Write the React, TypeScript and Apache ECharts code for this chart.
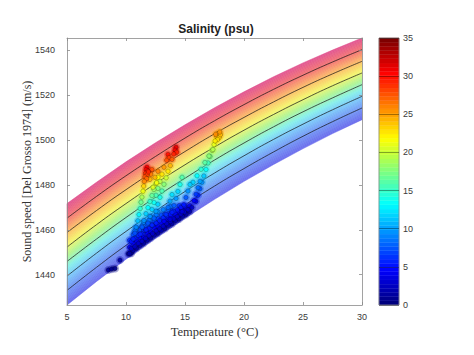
import React, { useEffect, useRef } from "react";
import * as echarts from "echarts";

// ---- band (sound speed contours by salinity) ----
const temps = [5, 7.5, 10, 12.5, 15, 17.5, 20, 22.5, 25, 27.5, 30];
const salinityLevels = [0, 5, 10, 15, 20, 25, 30, 35];
const speedS0 = [1426.5, 1437.0, 1446.9, 1456.3, 1465.2, 1473.6, 1481.6, 1489.1, 1496.2, 1502.9, 1509.1];
const speedS5 = [1433.0, 1443.3, 1453.1, 1462.3, 1471.1, 1479.5, 1487.3, 1494.7, 1501.7, 1508.2, 1514.3];
const speedS10 = [1439.4, 1449.6, 1459.3, 1468.4, 1477.1, 1485.3, 1493.0, 1500.3, 1507.1, 1513.5, 1519.5];
const speedS15 = [1445.9, 1455.9, 1465.5, 1474.5, 1483.0, 1491.1, 1498.7, 1505.9, 1512.6, 1518.8, 1524.7];
const speedS20 = [1452.3, 1462.3, 1471.7, 1480.6, 1489.0, 1496.9, 1504.4, 1511.4, 1518.0, 1524.2, 1529.9];
const speedS25 = [1458.8, 1468.6, 1477.9, 1486.6, 1494.9, 1502.8, 1510.1, 1517.0, 1523.5, 1529.5, 1535.1];
const speedS30 = [1465.2, 1474.9, 1484.1, 1492.7, 1500.9, 1508.6, 1515.8, 1522.6, 1528.9, 1534.8, 1540.3];
const speedS35 = [1471.7, 1481.2, 1490.3, 1498.8, 1506.8, 1514.4, 1521.5, 1528.2, 1534.4, 1540.1, 1545.5];
const contours = [speedS0, speedS5, speedS10, speedS15, speedS20, speedS25, speedS30, speedS35];

// ---- tick labels ----
const xTicks = [5, 10, 15, 20, 25, 30];
const yTicks = [1440, 1460, 1480, 1500, 1520, 1540];
const cbTicks = [0, 5, 10, 15, 20, 25, 30, 35];

// ---- measured profiles: [temperature, sound speed, salinity] ----
const isolated = [[8.5, 1442.1, 0.6], [8.79, 1442.5, 0.5], [9.07, 1442.8, 0.4], [9.49, 1446.5, 1.3], [10.2, 1449.3, 1.2], [10.45, 1449.6, 0.9]];
const blueMass = [
  [10.3, 1449.5, 1.2], [10.3, 1452.3, 3.5], [10.3, 1455.4, 6.0],
  [10.6, 1450.8, 1.3], [10.6, 1454.1, 4.0], [10.6, 1457.8, 7.0],
  [10.9, 1451.8, 1.2], [10.9, 1455.0, 3.8], [10.9, 1458.3, 6.5], [10.9, 1460.8, 8.5],
  [11.2, 1453.0, 1.3], [11.2, 1456.6, 4.2], [11.2, 1460.0, 7.0],
  [11.5, 1454.0, 1.2], [11.5, 1456.8, 3.5], [11.5, 1459.9, 6.0], [11.5, 1463.3, 8.8],
  [11.8, 1455.3, 1.3], [11.8, 1458.6, 4.0], [11.8, 1462.5, 7.2],
  [12.1, 1456.3, 1.2], [12.1, 1459.2, 3.6], [12.1, 1462.5, 6.3], [12.1, 1465.8, 9.0],
  [12.4, 1457.6, 1.4], [12.4, 1461.0, 4.2], [12.4, 1464.4, 7.0],
  [12.7, 1458.5, 1.2], [12.7, 1461.6, 3.8], [12.7, 1465.0, 6.6], [12.7, 1468.1, 9.2],
  [13.0, 1459.7, 1.3], [13.0, 1463.2, 4.2], [13.0, 1466.6, 7.0],
  [13.3, 1460.6, 1.2], [13.3, 1463.7, 3.8], [13.3, 1467.0, 6.5],
  [13.6, 1461.9, 1.4], [13.6, 1465.5, 4.4], [13.6, 1469.1, 7.4],
  [13.9, 1462.7, 1.2], [13.9, 1465.6, 3.6], [13.9, 1468.5, 6.0],
  [14.2, 1464.0, 1.3], [14.2, 1467.2, 4.0],
  [14.5, 1464.8, 1.2], [14.5, 1468.0, 3.8], [14.5, 1470.8, 6.2],
  [14.8, 1466.0, 1.3], [14.8, 1468.7, 3.5],
  [15.1, 1466.9, 1.2], [15.1, 1469.3, 3.2],
  [15.4, 1468.2, 1.4], [15.4, 1470.8, 3.6],
];
const blueMass2 = [
  [10.45, 1451.7, 2.5], [10.45, 1454.8, 5.0],
  [10.75, 1452.5, 2.3], [10.75, 1456.2, 5.3], [10.75, 1459.6, 8.0],
  [11.05, 1454.0, 2.6], [11.05, 1457.6, 5.5],
  [11.35, 1454.9, 2.4], [11.35, 1458.2, 5.1], [11.35, 1461.7, 8.0],
  [11.65, 1456.2, 2.5], [11.65, 1459.9, 5.5],
  [11.95, 1457.4, 2.6], [11.95, 1460.6, 5.2], [11.95, 1464.3, 8.2],
  [12.25, 1458.3, 2.4], [12.25, 1462.0, 5.5],
  [12.55, 1459.6, 2.6], [12.55, 1463.0, 5.3], [12.55, 1466.7, 8.4],
  [12.85, 1460.5, 2.4], [12.85, 1464.1, 5.4],
  [13.15, 1461.6, 2.5], [13.15, 1465.4, 5.6], [13.15, 1469.0, 8.6],
  [13.45, 1462.8, 2.6], [13.45, 1466.4, 5.6],
  [13.75, 1463.7, 2.4], [13.75, 1466.8, 5.0], [13.75, 1470.4, 8.0],
  [14.05, 1464.9, 2.6], [14.05, 1468.3, 5.5],
  [14.35, 1465.9, 2.5], [14.35, 1468.9, 5.0],
  [14.65, 1467.0, 2.5], [14.65, 1470.0, 5.0],
  [14.95, 1467.9, 2.4], [14.95, 1470.7, 4.8],
  [15.25, 1469.0, 2.5],
];
const blobA = [[11.78, 1487.9, 31.0], [11.7, 1486.8, 30.5], [11.85, 1486.3, 30.0], [11.65, 1485.2, 29.2], [11.8, 1484.6, 28.5], [11.9, 1485.8, 29.3], [11.6, 1483.6, 27.8], [11.75, 1482.8, 27.0], [11.55, 1481.6, 26.0]];
const streakA = [[11.44, 1477.2, 21.3], [11.5, 1479.5, 23.4], [11.35, 1474.6, 18.9], [11.27, 1472.3, 16.8], [11.2, 1469.5, 14.8], [11.1, 1466.8, 12.8], [11.0, 1464.0, 10.9], [10.85, 1461.2, 9.0], [10.75, 1458.5, 7.1], [10.6, 1455.9, 5.4]];
const handA = [[12.2, 1486.9, 28.0], [12.46, 1483.4, 24.5], [12.71, 1486.1, 26.0], [12.03, 1482.5, 24.6], [12.29, 1479.0, 20.8], [12.1, 1484.8, 26.4], [12.6, 1481.0, 21.5]];
const blobB = [[14.24, 1496.8, 31.5], [14.15, 1495.5, 30.8], [14.3, 1494.6, 29.6], [14.05, 1493.8, 29.6], [13.56, 1493.6, 30.2], [13.65, 1492.2, 28.8], [13.9, 1491.4, 27.5], [13.45, 1491.0, 28.0]];
const streakB1 = [[13.75, 1488.6, 24.5], [13.56, 1486.1, 22.7], [13.4, 1483.2, 20.2], [13.22, 1480.3, 17.8], [13.05, 1477.3, 15.7], [12.88, 1474.5, 14.0], [12.7, 1471.4, 11.7], [12.54, 1468.3, 9.8], [12.37, 1465.2, 7.7], [12.2, 1462.1, 5.7]];
const streakB2 = [[13.22, 1487.9, 25.4], [13.05, 1484.8, 22.8], [12.88, 1481.6, 19.6], [12.7, 1478.5, 17.4], [12.54, 1475.4, 15.6], [12.37, 1472.2, 13.5], [12.2, 1469.1, 11.5], [12.03, 1466.0, 9.4], [11.86, 1463.0, 7.4], [11.7, 1460.0, 5.3]];
const streakG = [[12.71, 1483.4, 21.9], [12.55, 1480.7, 20.0], [12.37, 1478.0, 18.2], [12.2, 1475.3, 16.5], [12.03, 1472.6, 14.8], [11.86, 1469.9, 13.1], [11.69, 1467.2, 11.4], [11.52, 1464.2, 9.4], [11.36, 1461.2, 7.5], [11.2, 1458.1, 5.5]];
const blobC = [[17.8, 1502.9, 25.2], [17.7, 1501.6, 24.5], [17.9, 1501.2, 23.8], [17.6, 1502.6, 25.8], [18.0, 1502.4, 24.3], [17.75, 1500.2, 23.0], [17.55, 1499.6, 22.5], [17.95, 1503.6, 25.4]];
const streakC = [[17.46, 1498.0, 21.0], [17.3, 1495.4, 19.2], [17.12, 1492.7, 17.3], [16.95, 1489.8, 15.3], [16.78, 1486.9, 13.3], [16.6, 1484.0, 11.3], [16.44, 1481.2, 9.4], [16.27, 1478.3, 7.4], [16.1, 1475.4, 5.5], [15.93, 1472.7, 3.7]];
const streakC2 = [[15.68, 1481.2, 11.6], [16.02, 1484.1, 13.1], [16.36, 1487.0, 14.6], [16.69, 1490.0, 16.2], [17.03, 1492.9, 17.8], [17.37, 1495.8, 19.3]];
const streak4 = [[16.27, 1481.6, 10.0], [16.1, 1478.8, 8.2], [15.93, 1475.9, 6.3], [15.76, 1473.0, 4.3], [15.59, 1470.0, 2.3]];
const streak5 = [[15.42, 1480.2, 11.3], [15.25, 1477.3, 9.4], [15.08, 1474.4, 7.4], [14.9, 1471.2, 5.3], [14.75, 1468.1, 3.2]];
const streak6 = [[14.75, 1483.4, 15.9], [14.58, 1480.2, 13.8], [14.4, 1477.1, 11.7], [14.24, 1474.0, 9.6], [14.07, 1470.9, 7.5], [13.9, 1467.8, 5.4], [13.73, 1464.7, 3.3]];
const streak7 = [[13.9, 1475.7, 12.0], [13.73, 1472.8, 10.1], [13.56, 1470.0, 8.2], [13.39, 1466.9, 6.1], [13.22, 1463.8, 4.1]];

const profilePoints = [
  ...isolated, ...blueMass, ...blueMass2, ...streakA, ...streakB1, ...streakB2, ...streakG,
  ...streakC, ...streakC2, ...streak4, ...streak5, ...streak6, ...streak7,
  ...handA, ...blobA, ...blobB, ...blobC,
];

// ---- colours ----
const jetStops = ["#00007F", "#0000FF", "#007FFF", "#00FFFF", "#7FFF7F", "#FFFF00", "#FF7F00", "#FF0000", "#7F0000"];
const bandStops: [number, number[]][] = [
  [0, [105, 105, 235]],
  [5, [115, 150, 245]],
  [10, [125, 205, 250]],
  [13, [135, 240, 235]],
  [17, [175, 245, 150]],
  [21, [245, 245, 110]],
  [25, [252, 195, 105]],
  [30, [245, 120, 115]],
  [35, [225, 85, 145]],
];

function hexToRgb(h: string) {
  return [parseInt(h.slice(1, 3), 16), parseInt(h.slice(3, 5), 16), parseInt(h.slice(5, 7), 16)];
}
function jet(t: number) {
  const n = jetStops.length - 1;
  const p = Math.max(0, Math.min(1, t)) * n;
  const i = Math.min(n - 1, Math.floor(p));
  const f = p - i;
  const a = hexToRgb(jetStops[i]);
  const b = hexToRgb(jetStops[i + 1]);
  return `rgb(${a.map((v, k) => Math.round(v + (b[k] - v) * f)).join(",")})`;
}
function bandColor(s: number) {
  for (let i = 0; i < bandStops.length - 1; i++) {
    const [s0, c0] = bandStops[i];
    const [s1, c1] = bandStops[i + 1];
    if (s <= s1) {
      const f = (s - s0) / (s1 - s0);
      return `rgb(${c0.map((v, k) => Math.round(v + (c1[k] - v) * f)).join(",")})`;
    }
  }
  return "rgb(225,85,145)";
}
function speedAt(ti: number, s: number) {
  const k = Math.min(salinityLevels.length - 2, Math.floor(s / 5));
  const f = (s - salinityLevels[k]) / 5;
  return contours[k][ti] * (1 - f) + contours[k + 1][ti] * f;
}

const STRIP = 0.5;
const nStrips = Math.round(35 / STRIP);
const CB_STEPS = 64;

const axisGray = "#8a8a8a";
const labelColor = "#3a3a3a";
const sans = "Liberation Sans, Arial, sans-serif";
const serif = "Liberation Serif, Times New Roman, serif";
const tickFont = 9;

function buildOption() {
  const bandData = Array.from({ length: nStrips }, (_, j) => [5, 1480, j]);
  const cbData = [...Array.from({ length: CB_STEPS }, (_, i) => [0.5, 10, i]), [0.5, 10, -1]];

  const contourSeries = salinityLevels.slice(1, 7).map((s, idx) => ({
    type: "line",
    xAxisIndex: 0,
    yAxisIndex: 0,
    data: temps.map((t, i) => [t, contours[idx + 1][i]]),
    symbol: "none",
    smooth: true,
    lineStyle: { color: "#111", width: 0.7 },
    z: 3,
    silent: true,
  }));

  return {
    animation: false,
    backgroundColor: "#fff",
    graphic: [
      {
        type: "text",
        x: 216,
        y: 29,
        style: {
          text: "Salinity (psu)",
          fill: "#222",
          font: `bold 12px ${sans}`,
          textAlign: "center",
          textVerticalAlign: "middle",
        },
      },
    ],
    grid: [
      { left: 67, top: 38, width: 295, height: 267 },
      { left: 379, top: 38, width: 20, height: 267 },
    ],
    xAxis: [
      {
        gridIndex: 0,
        type: "value",
        min: 5,
        max: 30,
        interval: 5,
        position: "bottom",
        z: 5,
        axisLine: { lineStyle: { color: axisGray, width: 0.8 } },
        axisTick: { inside: true, length: 3, lineStyle: { color: axisGray, width: 0.8 } },
        axisLabel: { color: labelColor, fontSize: tickFont, margin: 7, fontFamily: sans, customValues: xTicks },
        splitLine: { show: false },
        name: "Temperature (°C)",
        nameLocation: "middle",
        nameGap: 20,
        nameMoveOverlap: false,
        nameTextStyle: { color: "#333", fontSize: 12.5, fontFamily: serif },
      },
      {
        gridIndex: 0,
        type: "value",
        min: 5,
        max: 30,
        interval: 5,
        position: "top",
        z: 5,
        axisLine: { lineStyle: { color: axisGray, width: 0.8 } },
        axisTick: { inside: true, length: 3, lineStyle: { color: axisGray, width: 0.8 } },
        axisLabel: { show: false },
        splitLine: { show: false },
      },
      { gridIndex: 1, type: "value", min: 0, max: 1, show: false },
    ],
    yAxis: [
      {
        gridIndex: 0,
        type: "value",
        min: speedS0[0],
        max: speedS35[speedS35.length - 1],
        position: "left",
        z: 5,
        axisLine: { lineStyle: { color: axisGray, width: 0.8 } },
        axisTick: { inside: true, length: 3, customValues: yTicks, lineStyle: { color: axisGray, width: 0.8 } },
        axisLabel: {
          color: labelColor,
          fontSize: tickFont,
          margin: 12,
          fontFamily: sans,
          customValues: yTicks,
          formatter: (v: number) => String(v),
        },
        splitLine: { show: false },
        name: "Sound speed [Del Grosso 1974] (m/s)",
        nameLocation: "middle",
        nameGap: 34,
        nameMoveOverlap: false,
        nameTextStyle: { color: "#333", fontSize: 12, fontFamily: serif },
      },
      {
        gridIndex: 0,
        type: "value",
        min: speedS0[0],
        max: speedS35[speedS35.length - 1],
        position: "right",
        z: 5,
        axisLine: { lineStyle: { color: axisGray, width: 0.8 } },
        axisTick: { inside: true, length: 3, customValues: yTicks, lineStyle: { color: axisGray, width: 0.8 } },
        axisLabel: { show: false },
        splitLine: { show: false },
      },
      {
        gridIndex: 1,
        type: "value",
        min: 0,
        max: 35,
        interval: 5,
        position: "right",
        z: 10,
        axisLine: { show: false },
        axisTick: { show: false },
        axisLabel: { color: labelColor, fontSize: tickFont, margin: 4, fontFamily: sans, customValues: cbTicks },
        splitLine: { show: true, lineStyle: { color: "rgba(0,0,0,0.45)", width: 0.8 } },
      },
    ],
    visualMap: [
      {
        type: "continuous",
        show: false,
        min: 0,
        max: 35,
        dimension: 2,
        seriesIndex: [7, 8],
        inRange: { color: jetStops },
      },
    ],
    series: [
      {
        type: "custom",
        xAxisIndex: 0,
        yAxisIndex: 0,
        data: bandData,
        encode: { x: 0, y: 1 },
        z: 1,
        silent: true,
        renderItem: (params: any, api: any) => {
          const j = api.value(2);
          const s0 = j * STRIP;
          const s1 = s0 + STRIP;
          const lower = temps.map((t, i) => api.coord([t, speedAt(i, s0)]));
          const upper = temps.map((t, i) => api.coord([t, speedAt(i, s1)])).reverse();
          const col = bandColor(s0 + STRIP / 2);
          return {
            type: "polygon",
            shape: { points: [...lower, ...upper] },
            style: { fill: col, stroke: col, lineWidth: 0.6 },
          };
        },
      },
      ...contourSeries,
      {
        type: "scatter",
        xAxisIndex: 0,
        yAxisIndex: 0,
        data: profilePoints,
        symbol: "circle",
        symbolSize: 8,
        z: 3,
        silent: true,
        itemStyle: { opacity: 0.35 },
      },
      {
        type: "scatter",
        xAxisIndex: 0,
        yAxisIndex: 0,
        data: profilePoints,
        symbol: "circle",
        symbolSize: 4.5,
        z: 4,
        itemStyle: { borderColor: "rgba(0,0,0,0.6)", borderWidth: 0.45, opacity: 0.9 },
      },
      {
        type: "custom",
        xAxisIndex: 2,
        yAxisIndex: 2,
        data: cbData,
        encode: { x: 0, y: 1 },
        z: 2,
        silent: true,
        renderItem: (params: any, api: any) => {
          const i = api.value(2);
          if (i < 0) {
            const a = api.coord([0, 35]);
            const b = api.coord([1, 0]);
            return {
              type: "rect",
              shape: { x: a[0], y: a[1], width: b[0] - a[0], height: b[1] - a[1] },
              style: { fill: "none", stroke: axisGray, lineWidth: 0.8 },
              z2: 10,
            };
          }
          const lo = (i * 35) / CB_STEPS;
          const hi = ((i + 1) * 35) / CB_STEPS;
          const a = api.coord([0, hi]);
          const b = api.coord([1, lo]);
          const col = jet(i / (CB_STEPS - 1));
          return {
            type: "rect",
            shape: { x: a[0], y: a[1], width: b[0] - a[0], height: b[1] - a[1] },
            style: { fill: col, stroke: col, lineWidth: 0.4 },
          };
        },
      },
    ],
  };
}

export default function App() {
  const ref = useRef<HTMLDivElement>(null);
  useEffect(() => {
    if (!ref.current) return;
    const chart = echarts.init(ref.current, null, { renderer: "svg" });
    chart.setOption(buildOption() as any);
    return () => chart.dispose();
  }, []);
  return <div ref={ref} style={{ position: "absolute", left: 0, top: 0, width: 474, height: 355 }} />;
}
